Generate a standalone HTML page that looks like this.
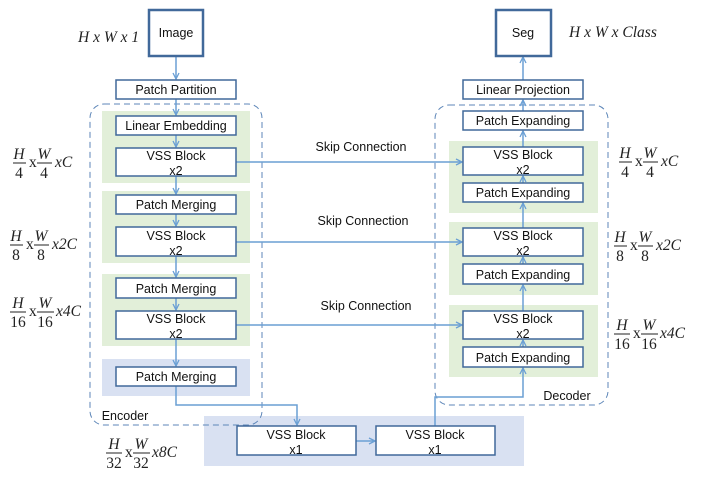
<!DOCTYPE html>
<html><head><meta charset="utf-8"><style>
body{margin:0;background:#fff;}
svg{display:block;font-family:"Liberation Sans",sans-serif;}
.b{fill:#fff;stroke:#41699a;stroke-width:1.5;}
.t{font-size:12.5px;fill:#111;text-anchor:middle;}
.m{font-family:"Liberation Serif",serif;font-style:italic;font-size:15.5px;fill:#222;}
.n{font-family:"Liberation Serif",serif;font-size:15.5px;fill:#222;}
.a{stroke:#6a9fd4;stroke-width:1.5;fill:none;}
.d{fill:none;stroke:#5d86b8;stroke-width:1;stroke-dasharray:6,4;}
.g{fill:#e2efd9;}
.bl{fill:#d9e1f2;}
</style></head><body>
<svg width="702" height="483" viewBox="0 0 702 483">
<defs><marker id="ar" markerWidth="8" markerHeight="8" refX="7" refY="4" orient="auto" markerUnits="userSpaceOnUse"><path d="M1,1 L7,4 L1,7" fill="none" stroke="#6a9fd4" stroke-width="1.3"/></marker></defs>

<rect class="g" x="102" y="111" width="148" height="72"/>
<rect class="g" x="102" y="191" width="148" height="72"/>
<rect class="g" x="102" y="274" width="148" height="72"/>
<rect class="bl" x="102" y="359" width="148" height="37"/>
<rect class="bl" x="204" y="416" width="320" height="50"/>
<rect class="g" x="449" y="141" width="149" height="72"/>
<rect class="g" x="449" y="222" width="149" height="73"/>
<rect class="g" x="449" y="305" width="149" height="72"/>

<rect class="d" x="90" y="104" width="172" height="321" rx="14"/>
<rect class="d" x="435" y="105" width="173" height="300" rx="14"/>

<line class="a" x1="176" y1="56" x2="176" y2="79" marker-end="url(#ar)"/>
<line class="a" x1="176" y1="99" x2="176" y2="115" marker-end="url(#ar)"/>
<line class="a" x1="176" y1="135" x2="176" y2="147" marker-end="url(#ar)"/>
<line class="a" x1="176" y1="176" x2="176" y2="194" marker-end="url(#ar)"/>
<line class="a" x1="176" y1="214" x2="176" y2="226" marker-end="url(#ar)"/>
<line class="a" x1="176" y1="256" x2="176" y2="277" marker-end="url(#ar)"/>
<line class="a" x1="176" y1="298" x2="176" y2="310" marker-end="url(#ar)"/>
<line class="a" x1="176" y1="339" x2="176" y2="366" marker-end="url(#ar)"/>
<polyline class="a" points="176,386 176,405 297,405 297,425" marker-end="url(#ar)"/>
<line class="a" x1="356" y1="441" x2="375" y2="441" marker-end="url(#ar)"/>
<polyline class="a" points="435,426 435,397 523,397 523,368" marker-end="url(#ar)"/>
<line class="a" x1="523" y1="347" x2="523" y2="340" marker-end="url(#ar)"/>
<line class="a" x1="523" y1="311" x2="523" y2="285" marker-end="url(#ar)"/>
<line class="a" x1="523" y1="264" x2="523" y2="257" marker-end="url(#ar)"/>
<line class="a" x1="523" y1="228" x2="523" y2="203" marker-end="url(#ar)"/>
<line class="a" x1="523" y1="183" x2="523" y2="176" marker-end="url(#ar)"/>
<line class="a" x1="523" y1="147" x2="523" y2="131" marker-end="url(#ar)"/>
<line class="a" x1="523" y1="111" x2="523" y2="100" marker-end="url(#ar)"/>
<line class="a" x1="523" y1="80" x2="523" y2="57" marker-end="url(#ar)"/>
<line class="a" x1="236" y1="162" x2="462" y2="162" marker-end="url(#ar)"/>
<line class="a" x1="236" y1="242" x2="462" y2="242" marker-end="url(#ar)"/>
<line class="a" x1="236" y1="325" x2="462" y2="325" marker-end="url(#ar)"/>

<rect class="b" x="149" y="10" width="54" height="46" style="stroke-width:2.5"/>
<text class="t" x="176" y="37">Image</text>
<rect class="b" x="496" y="10" width="55" height="46" style="stroke-width:2.5"/>
<text class="t" x="523" y="37">Seg</text>

<rect class="b" x="116" y="80" width="120" height="19"/><text class="t" x="176" y="94">Patch Partition</text>
<rect class="b" x="116" y="116" width="120" height="19"/><text class="t" x="176" y="130">Linear Embedding</text>
<rect class="b" x="116" y="148" width="120" height="28"/><text class="t" x="176" y="160">VSS Block</text><text class="t" x="176" y="175">x2</text>
<rect class="b" x="116" y="195" width="120" height="19"/><text class="t" x="176" y="209">Patch Merging</text>
<rect class="b" x="116" y="227" width="120" height="29"/><text class="t" x="176" y="240">VSS Block</text><text class="t" x="176" y="255">x2</text>
<rect class="b" x="116" y="278" width="120" height="20"/><text class="t" x="176" y="293">Patch Merging</text>
<rect class="b" x="116" y="311" width="120" height="28"/><text class="t" x="176" y="323">VSS Block</text><text class="t" x="176" y="338">x2</text>
<rect class="b" x="116" y="367" width="120" height="19"/><text class="t" x="176" y="381">Patch Merging</text>

<rect class="b" x="237" y="426" width="119" height="29"/><text class="t" x="296" y="439">VSS Block</text><text class="t" x="296" y="454">x1</text>
<rect class="b" x="376" y="426" width="119" height="29"/><text class="t" x="435" y="439">VSS Block</text><text class="t" x="435" y="454">x1</text>

<rect class="b" x="463" y="80" width="120" height="19"/><text class="t" x="523" y="94">Linear Projection</text>
<rect class="b" x="463" y="111" width="120" height="19"/><text class="t" x="523" y="125">Patch Expanding</text>
<rect class="b" x="463" y="147" width="120" height="28"/><text class="t" x="523" y="159">VSS Block</text><text class="t" x="523" y="174">x2</text>
<rect class="b" x="463" y="183" width="120" height="19"/><text class="t" x="523" y="197">Patch Expanding</text>
<rect class="b" x="463" y="228" width="120" height="28"/><text class="t" x="523" y="240">VSS Block</text><text class="t" x="523" y="255">x2</text>
<rect class="b" x="463" y="264" width="120" height="20"/><text class="t" x="523" y="279">Patch Expanding</text>
<rect class="b" x="463" y="311" width="120" height="28"/><text class="t" x="523" y="323">VSS Block</text><text class="t" x="523" y="338">x2</text>
<rect class="b" x="463" y="347" width="120" height="20"/><text class="t" x="523" y="362">Patch Expanding</text>

<text class="t" x="361" y="151">Skip Connection</text>
<text class="t" x="363" y="225">Skip Connection</text>
<text class="t" x="366" y="310">Skip Connection</text>
<text class="t" x="125" y="420">Encoder</text>
<text class="t" x="567" y="400">Decoder</text>

<text class="m" x="78" y="42">H<tspan class="n"> x </tspan>W<tspan class="n"> x 1</tspan></text>
<text class="m" x="569" y="37">H<tspan class="n"> x </tspan>W<tspan class="n"> x </tspan>Class</text>

<g transform="translate(13,163)">
<text class="m" x="6" y="-4" text-anchor="middle">H</text><line x1="0" y1="0" x2="13" y2="0" stroke="#222"/><text class="n" x="6" y="15" text-anchor="middle">4</text>
<text class="n" x="16" y="4">x</text>
<text class="m" x="31" y="-4" text-anchor="middle">W</text><line x1="24" y1="0" x2="39" y2="0" stroke="#222"/><text class="n" x="31" y="15" text-anchor="middle">4</text>
<text class="m" x="42" y="4"><tspan class="n">x</tspan>C</text>
</g>
<g transform="translate(10,245)">
<text class="m" x="6" y="-4" text-anchor="middle">H</text><line x1="0" y1="0" x2="13" y2="0" stroke="#222"/><text class="n" x="6" y="15" text-anchor="middle">8</text>
<text class="n" x="16" y="4">x</text>
<text class="m" x="31" y="-4" text-anchor="middle">W</text><line x1="24" y1="0" x2="39" y2="0" stroke="#222"/><text class="n" x="31" y="15" text-anchor="middle">8</text>
<text class="m" x="42" y="4"><tspan class="n">x2</tspan>C</text>
</g>
<g transform="translate(10,312)">
<text class="m" x="8" y="-4" text-anchor="middle">H</text><line x1="0" y1="0" x2="16" y2="0" stroke="#222"/><text class="n" x="8" y="15" text-anchor="middle">16</text>
<text class="n" x="19" y="4">x</text>
<text class="m" x="35" y="-4" text-anchor="middle">W</text><line x1="27" y1="0" x2="44" y2="0" stroke="#222"/><text class="n" x="35" y="15" text-anchor="middle">16</text>
<text class="m" x="46" y="4"><tspan class="n">x4</tspan>C</text>
</g>
<g transform="translate(106,453)">
<text class="m" x="8" y="-4" text-anchor="middle">H</text><line x1="0" y1="0" x2="16" y2="0" stroke="#222"/><text class="n" x="8" y="15" text-anchor="middle">32</text>
<text class="n" x="19" y="4">x</text>
<text class="m" x="35" y="-4" text-anchor="middle">W</text><line x1="27" y1="0" x2="44" y2="0" stroke="#222"/><text class="n" x="35" y="15" text-anchor="middle">32</text>
<text class="m" x="46" y="4"><tspan class="n">x8</tspan>C</text>
</g>
<g transform="translate(619,162)">
<text class="m" x="6" y="-4" text-anchor="middle">H</text><line x1="0" y1="0" x2="13" y2="0" stroke="#222"/><text class="n" x="6" y="15" text-anchor="middle">4</text>
<text class="n" x="16" y="4">x</text>
<text class="m" x="31" y="-4" text-anchor="middle">W</text><line x1="24" y1="0" x2="39" y2="0" stroke="#222"/><text class="n" x="31" y="15" text-anchor="middle">4</text>
<text class="m" x="42" y="4"><tspan class="n">x</tspan>C</text>
</g>
<g transform="translate(614,246)">
<text class="m" x="6" y="-4" text-anchor="middle">H</text><line x1="0" y1="0" x2="13" y2="0" stroke="#222"/><text class="n" x="6" y="15" text-anchor="middle">8</text>
<text class="n" x="16" y="4">x</text>
<text class="m" x="31" y="-4" text-anchor="middle">W</text><line x1="24" y1="0" x2="39" y2="0" stroke="#222"/><text class="n" x="31" y="15" text-anchor="middle">8</text>
<text class="m" x="42" y="4"><tspan class="n">x2</tspan>C</text>
</g>
<g transform="translate(614,334)">
<text class="m" x="8" y="-4" text-anchor="middle">H</text><line x1="0" y1="0" x2="16" y2="0" stroke="#222"/><text class="n" x="8" y="15" text-anchor="middle">16</text>
<text class="n" x="19" y="4">x</text>
<text class="m" x="35" y="-4" text-anchor="middle">W</text><line x1="27" y1="0" x2="44" y2="0" stroke="#222"/><text class="n" x="35" y="15" text-anchor="middle">16</text>
<text class="m" x="46" y="4"><tspan class="n">x4</tspan>C</text>
</g>
</svg>
</body></html>
